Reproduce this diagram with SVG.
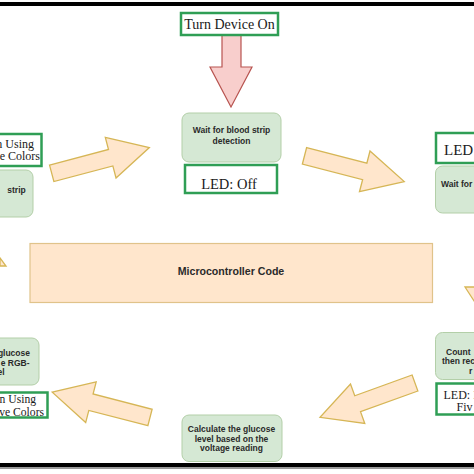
<svg xmlns="http://www.w3.org/2000/svg" width="474" height="474" viewBox="0 0 474 474">
<defs>
<style>
.node{fill:#d5e8d4;stroke:#b3cfa8;stroke-width:1}
.led{fill:#ffffff;stroke:#2f9e55;stroke-width:2.5}
.nt{font-family:"Liberation Sans",Arial,sans-serif;font-weight:bold;font-size:8.5px;fill:#2a2a2a}
.st{font-family:"Liberation Serif","Times New Roman",serif;fill:#1a1a1a}
.oarrow{fill:#ffe6cc;stroke:#d6b656;stroke-width:1.3}
.code{fill:#ffe6cc;stroke:#e0c38a;stroke-width:1.2}
</style>
<path id="arr" d="M0,-8.5 L61,-8.5 L61,-21 L101,0 L61,21 L61,8.5 L0,8.5 Z"/>
</defs>
<rect x="0" y="0" width="474" height="474" fill="#ffffff"/>
<line x1="0" y1="4" x2="474" y2="4" stroke="#000" stroke-width="4"/>
<line x1="0" y1="465" x2="474" y2="465" stroke="#000" stroke-width="4"/>
<line x1="0" y1="468" x2="474" y2="468" stroke="#9a9a9a" stroke-width="2"/>

<g id="connectors">
<polygon points="222,35 241,35 241,67 252,67 231,107 210,67 222,67" fill="#f8cecc" stroke="#b85450" stroke-width="1.2"/>
<use href="#arr" class="oarrow" transform="translate(51.7,173.3) rotate(-14.8)"/>
<use href="#arr" class="oarrow" transform="translate(304.5,155.8) rotate(14.5) scale(1.02,1)"/>
<use href="#arr" class="oarrow" transform="translate(415,383) rotate(160.1)"/>
<use href="#arr" class="oarrow" transform="translate(150,417.5) rotate(194.5)"/>
<polygon points="0,258 6,266 0,266" class="oarrow"/>
<polygon points="465,287 476,287 476,304" class="oarrow"/>
</g>

<g id="turn-on">
<rect x="181" y="13" width="97" height="22" class="led"/>
<text x="229.5" y="29" text-anchor="middle" class="st" style="font-size:14px">Turn Device On</text>
</g>

<g id="wait-strip">
<rect x="182" y="113" width="99" height="49" rx="7" class="node"/>
<text x="231.5" y="133" text-anchor="middle" class="nt">Wait for blood strip</text>
<text x="231.5" y="143.5" text-anchor="middle" class="nt">detection</text>
</g>

<g id="led-off">
<rect x="185" y="165" width="92" height="28" class="led"/>
<text x="229" y="189" text-anchor="middle" class="st" style="font-size:14.5px">LED: Off</text>
</g>

<g id="led-left-top">
<rect x="-10" y="134" width="51.5" height="32" class="led"/>
<text x="34" y="147.5" text-anchor="end" class="st" style="font-size:12px">n Using</text>
<text x="40" y="160" text-anchor="end" class="st" style="font-size:12px">ve Colors</text>
</g>

<g id="node-left-top">
<rect x="-10" y="170" width="43" height="47" rx="7" class="node"/>
<text x="16.5" y="192.5" text-anchor="middle" class="nt">strip</text>
</g>

<g id="led-right-top">
<rect x="436" y="133" width="50" height="30" class="led"/>
<text x="444" y="154.5" class="st" style="font-size:15px">LED</text>
</g>

<g id="node-right-top">
<rect x="435.5" y="166" width="50" height="47" rx="7" class="node"/>
<text x="441" y="187" class="nt">Wait for</text>
</g>

<g id="micro">
<rect x="30" y="243.5" width="402.5" height="59" class="code"/>
<text x="231" y="274.5" text-anchor="middle" class="nt" style="font-size:10.6px">Microcontroller Code</text>
</g>

<g id="node-right-bottom">
<rect x="435.5" y="332.5" width="50" height="47" rx="7" class="node"/>
<text x="446" y="354.5" class="nt">Count</text>
<text x="442" y="364" class="nt">then rec</text>
<text x="469" y="373.5" class="nt">r</text>
</g>

<g id="led-right-bottom">
<rect x="436.5" y="383.5" width="50" height="31" class="led"/>
<text x="443.5" y="398.5" class="st" style="font-size:12px">LED: B</text>
<text x="456.5" y="411" class="st" style="font-size:12px">Fiv</text>
</g>

<g id="calc">
<rect x="182" y="415" width="100" height="46.5" rx="7" class="node"/>
<text x="231.5" y="432" text-anchor="middle" class="nt">Calculate the glucose</text>
<text x="231.5" y="441.5" text-anchor="middle" class="nt">level based on the</text>
<text x="231.5" y="451" text-anchor="middle" class="nt">voltage reading</text>
</g>

<g id="node-left-bottom">
<rect x="-10" y="338" width="49" height="47" rx="7" class="node"/>
<text x="30" y="355.5" text-anchor="end" class="nt">glucose</text>
<text x="29.5" y="365.5" text-anchor="end" class="nt">e RGB-</text>
<text x="4.5" y="374.5" text-anchor="end" class="nt">el</text>
</g>

<g id="led-left-bottom">
<rect x="-10" y="392.5" width="57.5" height="25" class="led"/>
<text x="36" y="403" text-anchor="end" class="st" style="font-size:11.6px">on Using</text>
<text x="44" y="415.5" text-anchor="end" class="st" style="font-size:11.6px">ive Colors</text>
</g>
</svg>
